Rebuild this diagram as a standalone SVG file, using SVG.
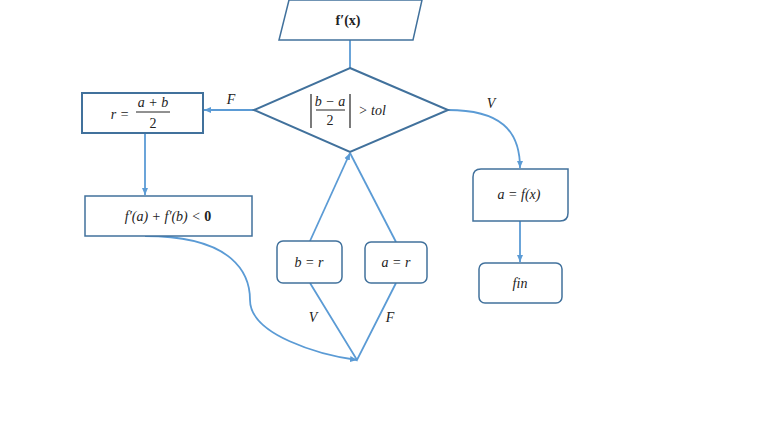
<svg xmlns="http://www.w3.org/2000/svg" width="768" height="433" viewBox="0 0 768 433">
<defs>
<marker id="ah" markerWidth="8" markerHeight="8" refX="7" refY="4" orient="auto" markerUnits="userSpaceOnUse"><path d="M0,1 L7,4 L0,7 z" fill="#5b9bd5"/></marker>
<style>
.s{fill:#fff;stroke:#41719c;stroke-width:2}
.s2{fill:#fff;stroke:#41719c;stroke-width:1.5}
.c{fill:none;stroke:#5b9bd5;stroke-width:1.8}
.t{font-family:"Liberation Serif",serif;font-style:italic;font-size:14px;fill:#222;text-anchor:middle}
.m{font-family:"Liberation Serif",serif;font-size:14px;fill:#222;text-anchor:middle}
</style>
</defs>
<rect width="768" height="433" fill="#fff"/>
<g id="connectors">
<path class="c" d="M350,40 V68"/>
<path class="c" d="M254,110 H204" marker-end="url(#ah)"/>
<path class="c" d="M145,133 V195" marker-end="url(#ah)"/>
<path class="c" d="M145,236 C235,236 250,275 250,300 C250,335 320,355 357,360" marker-end="url(#ah)"/>
<path class="c" d="M310,241 L350,153" marker-end="url(#ah)"/>
<path class="c" d="M396,242 L350,153"/>
<path class="c" d="M310,283 L357,360 L396,283"/>
<path class="c" d="M448,110 C500,110 520,130 520,168" marker-end="url(#ah)"/>
<path class="c" d="M520,221 V262" marker-end="url(#ah)"/>
<text class="t" x="231" y="104">F</text>
<text class="t" x="491" y="108">V</text>
<text class="t" x="313" y="322">V</text>
<text class="t" x="390" y="322">F</text>
</g>
<g id="input"><path class="s2" d="M289,0 H422 L413,40 H279 Z"/><text class="m" x="348" y="25" font-weight="bold">f′(x)</text></g>
<g id="decision"><path class="s" d="M350,68 L448,110 L350,152 L254,110 Z"/>
<line x1="311" y1="94" x2="311" y2="128" stroke="#222" stroke-width="1.2"/><line x1="350" y1="94" x2="350" y2="128" stroke="#222" stroke-width="1.2"/>
<text class="t" x="330" y="106">b − a</text><line x1="316" y1="110" x2="345" y2="110" stroke="#222" stroke-width="1"/><text class="m" x="330" y="125">2</text>
<text class="t" x="372" y="115">&gt; tol</text></g>
<g id="mid"><rect class="s" x="82" y="93" width="121" height="40"/>
<text class="t" x="120" y="119">r =</text><text class="t" x="153" y="107">a + b</text><line x1="136" y1="112" x2="170" y2="112" stroke="#222"/><text class="m" x="153" y="128">2</text></g>
<g id="cond"><rect class="s2" x="85" y="196" width="167" height="40"/><text class="t" x="168" y="221">f′(a) + f′(b) &lt; <tspan font-style="normal" font-weight="bold">0</tspan></text></g>
<g id="setb"><rect class="s2" x="277" y="241" width="65" height="42" rx="6"/><text class="t" x="309" y="267">b = r</text></g>
<g id="seta"><rect class="s2" x="365" y="242" width="62" height="41" rx="6"/><text class="t" x="396" y="267">a = r</text></g>
<g id="result"><path class="s2" d="M481,169 H568 V213 Q568,221 560,221 H473 V177 Q473,169 481,169 Z"/><text class="t" x="519" y="199">a = f(x)</text></g>
<g id="fin"><rect class="s2" x="479" y="263" width="83" height="40" rx="6"/><text class="t" x="520" y="288">fin</text></g>
</svg>
